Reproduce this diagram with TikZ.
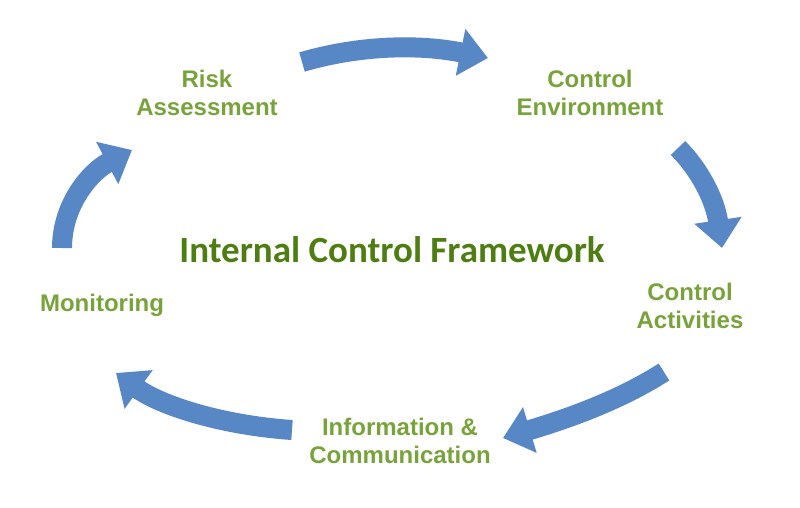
\documentclass[tikz,border=0pt]{standalone}
\usepackage{fontspec}
\setmainfont{Liberation Sans}
\newfontfamily\carl{Carlito}
\usetikzlibrary{arrows.meta}
\definecolor{lab}{HTML}{78A33A}
\definecolor{ttl}{HTML}{4E7D12}
\definecolor{arr}{HTML}{5887C6}
\begin{document}
\begin{tikzpicture}[x=1pt,y=-1pt,
  lbl/.style={font=\bfseries\fontsize{24}{28}\selectfont,text=lab,align=center},
  carrow/.style={draw=arr,line width=20pt,-{Triangle[width=46pt,length=28pt]}}]
\useasboundingbox (0,0) rectangle (800,507);
\node[lbl] (ra) at (207,93) {Risk\\Assessment};
\node[lbl] (ce) at (590,93) {Control\\Environment};
\node[lbl] (ca) at (690,306) {Control\\Activities};
\node[lbl] (ic) at (400,441) {Information \&\\Communication};
\node[lbl] (mo) at (102,305) {Monitoring};
\node[font=\carl\bfseries\fontsize{37}{42}\selectfont,text=ttl] (t) at (392,250) {Internal Control Framework};
\coordinate (a1) at (302,62); \coordinate (b1) at (488,58);
\coordinate (a2) at (678,148); \coordinate (b2) at (722,248);
\coordinate (a3) at (664,372); \coordinate (b3) at (503,438);
\coordinate (a4) at (292,430); \coordinate (b4) at (116,373);
\coordinate (a5) at (62,248); \coordinate (b5) at (132,150);
\draw[carrow] (a1) .. controls (360,45) and (420,44) .. (b1);
\draw[carrow] (a2) .. controls (700,170) and (715,200) .. (b2);
\draw[carrow] (a3) .. controls (620,400) and (570,418) .. (b3);
\draw[carrow] (a4) .. controls (220,425) and (160,405) .. (b4);
\draw[carrow] (a5) .. controls (62,205) and (90,172) .. (b5);
\end{tikzpicture}
\end{document}
